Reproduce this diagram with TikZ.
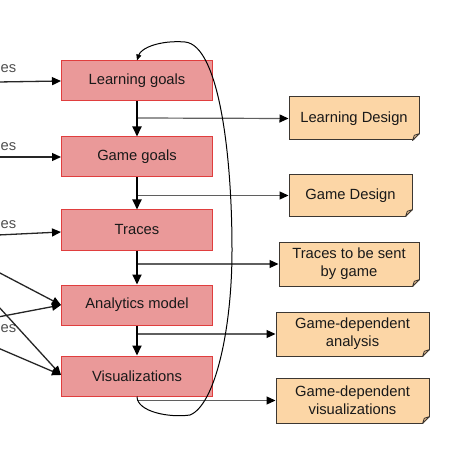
\documentclass[tikz,border=0pt]{standalone}
\usepackage{fontspec}
\setmainfont{Liberation Sans}
\usetikzlibrary{arrows.meta,calc}
\definecolor{redfill}{RGB}{234,153,153}
\definecolor{redline}{RGB}{224,62,62}
\definecolor{orfill}{RGB}{252,214,166}
\definecolor{orline}{RGB}{60,55,50}
\definecolor{foldfill}{RGB}{225,185,140}
\definecolor{graylbl}{RGB}{80,80,80}
\definecolor{branchgray}{RGB}{95,95,95}
\newcommand\foldcorner[1]{%
  \fill[white] ($(#1.south east)+(0.8,-7)$) -- ($(#1.south east)+(0.8,0.8)$) -- ($(#1.south east)+(-7,0.8)$) -- cycle;
  \filldraw[fill=foldfill, draw=orline, line width=0.8bp, line join=round] ($(#1.south east)+(0,-7)$) -- ($(#1.south east)+(-7,0)$) -- ($(#1.south east)+(-5.2,-5.2)$) -- cycle;
}
\begin{document}
\begin{tikzpicture}[x=1bp,y=-1bp,
  txt/.style={font=\fontsize{14.8}{18}\selectfont},
  redbox/.style={txt, draw=redline, fill=redfill, line width=1bp, minimum width=151bp, minimum height=40bp, inner sep=0pt, text=black!90},
  notebox/.style={txt, draw=orline, fill=orfill, line width=1bp, inner sep=0pt, align=center, text=black!90},
  vert/.style={line width=2bp, -{Triangle[length=10bp,width=9bp]}},
  branch/.style={draw=branchgray, line width=1.2bp, -{Triangle[length=9bp,width=8bp,color=black]}},
  inarrow/.style={draw=black!85, line width=1.3bp, -{Triangle[length=9bp,width=8bp,color=black]}},
  loopline/.style={line width=1bp, -{Triangle[length=6bp,width=5bp]}},
  eslbl/.style={txt, text=graylbl, inner sep=0pt, anchor=west}
]
\fill[white] (0,0) rectangle (474,474);
\useasboundingbox (0,0) rectangle (474,474);
\clip (0,0) rectangle (474,474);

% red boxes
\node[redbox] (lg) at (137,81) {Learning goals};
\node[redbox] (gg) at (137,157) {Game goals};
\node[redbox] (tr) at (137,230) {Traces};
\node[redbox] (am) at (137,305) {Analytics model};
\node[redbox] (vis) at (137,376) {Visualizations};

% note boxes
\node[notebox, minimum width=130bp, minimum height=43bp] (ld) at (354,118.5) {Learning Design};
\node[notebox, minimum width=123bp, minimum height=41bp] (gd) at (350.5,195.5) {Game Design};
\node[notebox, minimum width=140bp, minimum height=44bp] (ts) at (349,264) {Traces to be sent\\by game};
\node[notebox, minimum width=153bp, minimum height=44bp] (gda) at (352.5,334) {Game-dependent\\analysis};
\node[notebox, minimum width=153bp, minimum height=45bp] (gdv) at (352.5,400.5) {Game-dependent\\visualizations};
\foldcorner{ld}
\foldcorner{gd}
\foldcorner{ts}
\foldcorner{gda}
\foldcorner{gdv}

% branch points
\coordinate (b1) at (137,118);
\coordinate (b2) at (137,195.5);
\coordinate (b3) at (137,264);
\coordinate (b4) at (137,334);
\coordinate (b5) at (137,400.5);

\draw[branch] (b1) -- (ld.west);
\draw[branch] (b2) -- (gd.west);
\draw[branch] (b3) -- (ts.west);
\draw[branch] (b4) -- (gda.west);
\draw[branch] (b5) -- (gdv.west);

% vertical arrows
\draw[vert] (lg) -- (gg);
\draw[vert] (gg) -- (tr);
\draw[vert] (tr) -- (am);
\draw[vert] (am) -- (vis);

% left inputs
\node[eslbl] (e1) at (0.5,69) {es};
\node[eslbl] (e2) at (0.5,147) {es};
\node[eslbl] (e3) at (0.5,225) {es};
\node[eslbl] (e4) at (0.5,329) {es};
\coordinate (s1) at (-2,82);
\coordinate (s2) at (-2,157);
\coordinate (s3) at (-2,235);
\coordinate (s4) at (-2,272);
\coordinate (s5) at (-2,317);
\coordinate (s6) at (-2,306);
\coordinate (s7) at (-2,348);
\draw[inarrow] (s1) -- (lg.west);
\draw[inarrow] (s2) -- (gg.west);
\draw[inarrow] (s3) -- ($(tr.west)+(0,2)$);
\draw[inarrow] (s4) -- (am.west);
\draw[inarrow] (s5) -- (am.west);
\draw[inarrow] (s6) -- ($(vis.west)+(0,-1)$);
\draw[inarrow] (s7) -- ($(vis.west)+(0,-1)$);

% feedback loop
\coordinate (c1) at (190,415);
\coordinate (c2) at (232,250);
\coordinate (c3) at (185,42);
\draw[loopline] (vis.south) .. controls (137,412) and (170,418) .. (c1)
  .. controls (215,405) and (232,330) .. (c2)
  .. controls (232,150) and (218,45) .. (c3)
  .. controls (160,40) and (141,48) .. (lg.north);
\end{tikzpicture}
\end{document}
